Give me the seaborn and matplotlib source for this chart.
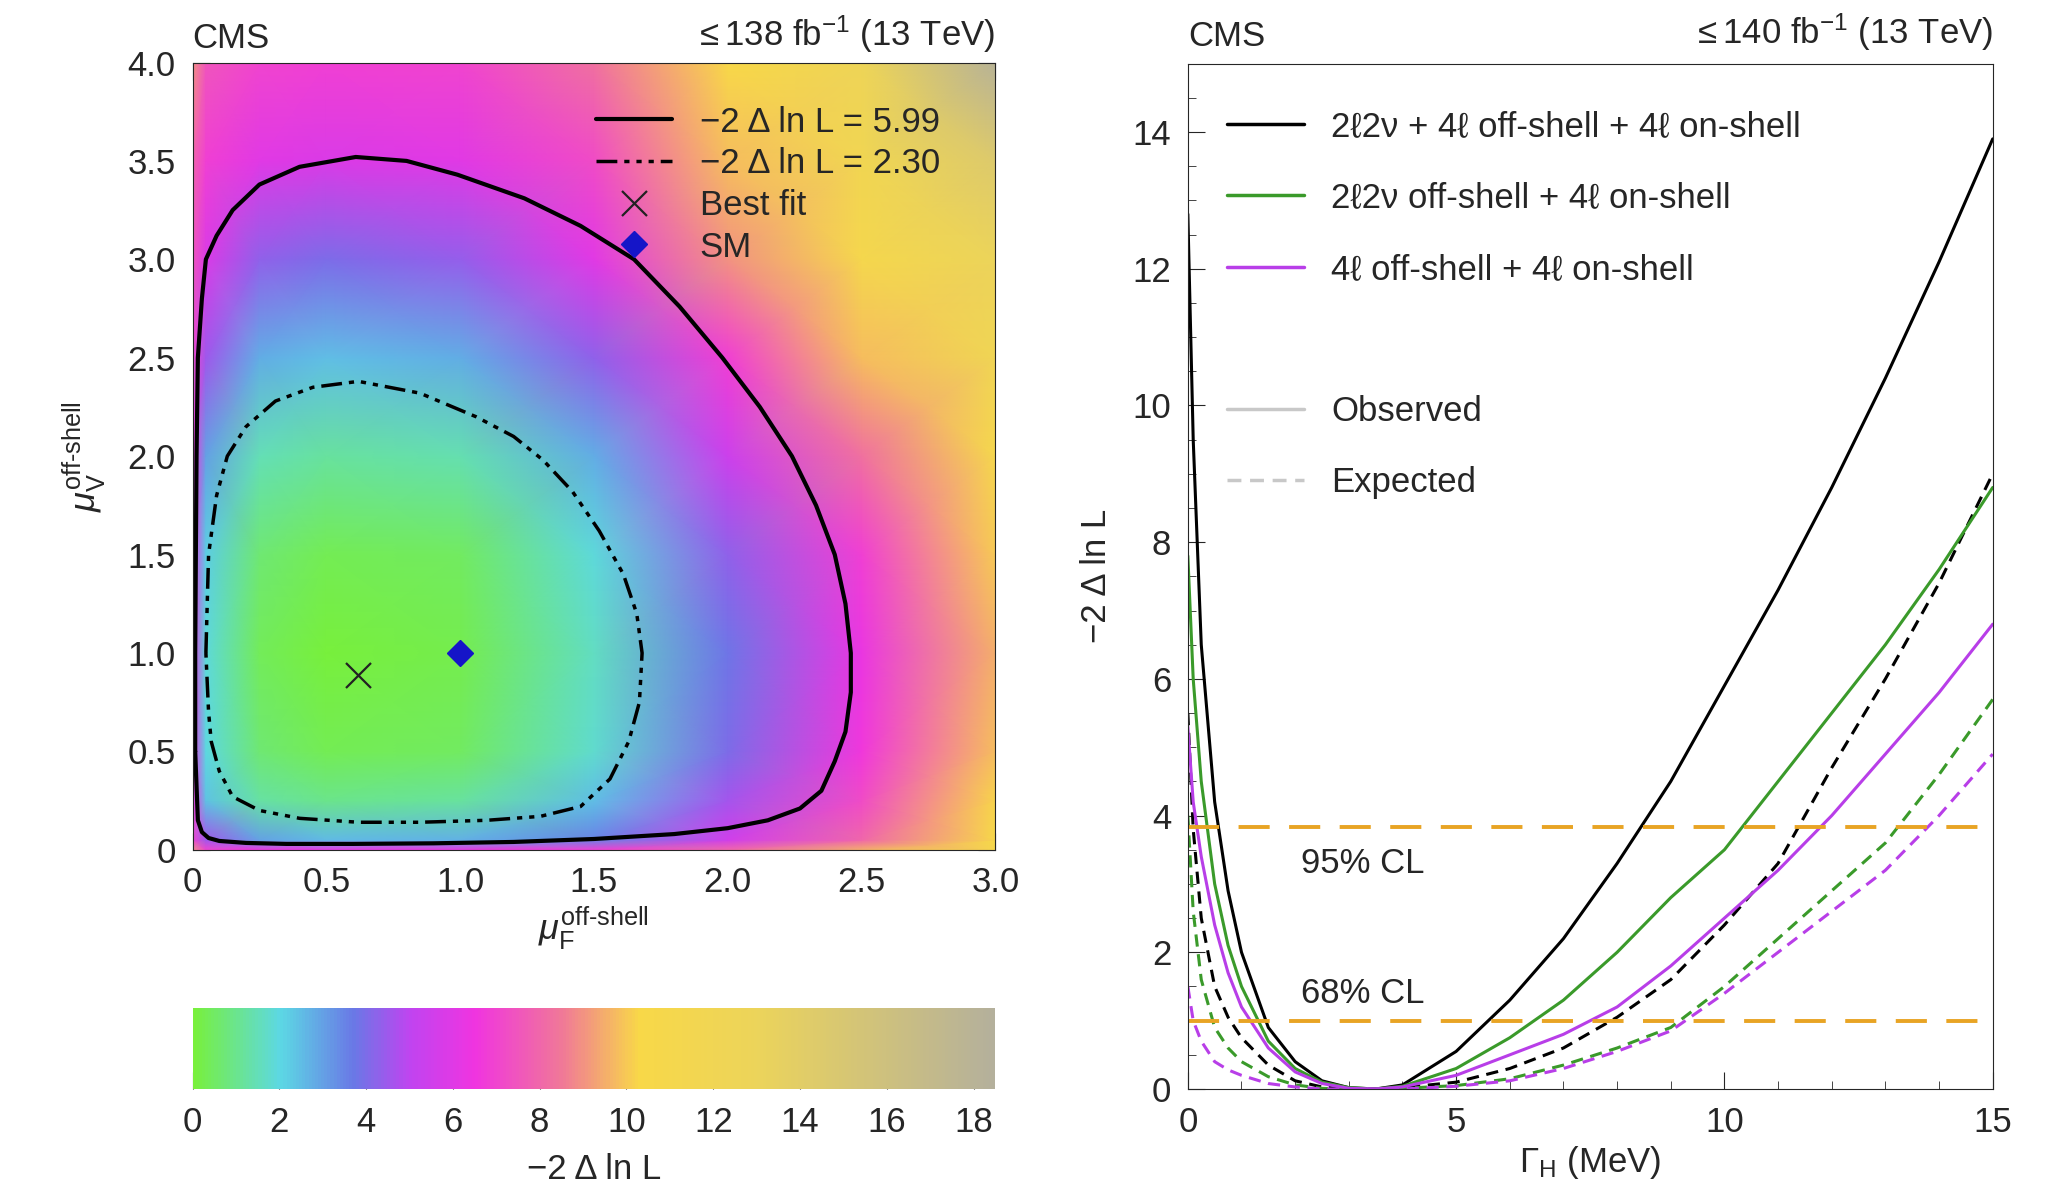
import numpy as np
import pandas as pd
import matplotlib
matplotlib.use("Agg")
import matplotlib.pyplot as plt
import seaborn as sns
from matplotlib.colors import LinearSegmentedColormap
from matplotlib.lines import Line2D

sns.set_style("ticks")
plt.rcParams["font.family"] = "sans-serif"
plt.rcParams["font.sans-serif"] = ["Liberation Sans", "Arial", "DejaVu Sans"]
plt.rcParams["mathtext.fontset"] = "custom"
plt.rcParams["mathtext.rm"] = "Liberation Sans"
plt.rcParams["mathtext.it"] = "Liberation Sans:italic"

# ---------------- left panel data ----------------
mu_F_nodes = [0, 0.05, 0.25, 0.5, 1.0, 1.5, 2.0, 2.5, 3.0]
mu_V_nodes = [0, 0.05, 0.25, 0.5, 1.0, 1.5, 2.0, 2.5, 3.0, 3.5, 4.0]
nll_grid = [
    [9.0, 7.0, 6.5, 6.3, 6.3, 6.8, 8.0, 9.5, 11.0],
    [7.0, 4.5, 3.0, 2.6, 2.7, 3.5, 5.5, 8.0, 10.5],
    [6.5, 2.4, 1.3, 1.0, 1.2, 2.5, 4.6, 7.2, 10.2],
    [6.0, 2.0, 0.7, 0.3, 0.5, 1.8, 4.0, 6.6, 9.8],
    [6.0, 1.9, 0.4, 0.03, 0.25, 1.6, 3.8, 6.3, 9.5],
    [6.2, 2.2, 0.7, 0.35, 0.5, 1.9, 4.3, 6.8, 10.0],
    [6.5, 3.0, 1.5, 1.2, 1.4, 2.8, 5.4, 8.3, 11.0],
    [7.0, 4.5, 2.8, 2.5, 2.8, 4.3, 6.8, 9.8, 12.0],
    [7.5, 5.8, 4.3, 4.0, 4.4, 6.0, 9.0, 11.0, 13.0],
    [8.0, 6.8, 6.0, 5.8, 6.0, 7.2, 9.8, 11.8, 14.5],
    [9.0, 7.5, 7.0, 6.8, 7.0, 8.3, 10.3, 12.5, 18.0],
]
c599_x = [0.01, 0.01, 0.015, 0.02, 0.035, 0.05, 0.09, 0.15, 0.25, 0.4, 0.61, 0.8, 0.99, 1.24, 1.45, 1.65, 1.82, 1.98, 2.12, 2.24, 2.33, 2.40, 2.44, 2.46, 2.46, 2.44, 2.4, 2.35, 2.27, 2.15, 2.0, 1.8, 1.5, 1.2, 0.9, 0.6, 0.35, 0.2, 0.1, 0.06, 0.035, 0.02, 0.01]
c599_y = [0.5, 1.0, 2.0, 2.5, 2.8, 3.0, 3.12, 3.25, 3.38, 3.47, 3.52, 3.5, 3.43, 3.31, 3.17, 3.0, 2.76, 2.5, 2.25, 2.0, 1.75, 1.5, 1.25, 1.0, 0.8, 0.6, 0.45, 0.3, 0.21, 0.15, 0.11, 0.08, 0.055, 0.04, 0.033, 0.03, 0.03, 0.035, 0.045, 0.06, 0.09, 0.15, 0.5]
c230_x = [0.05, 0.06, 0.09, 0.13, 0.2, 0.31, 0.45, 0.62, 0.85, 1.06, 1.2, 1.31, 1.42, 1.52, 1.61, 1.66, 1.68, 1.67, 1.63, 1.56, 1.45, 1.3, 1.1, 0.85, 0.62, 0.4, 0.25, 0.15, 0.1, 0.07, 0.06, 0.05]
c230_y = [1.0, 1.5, 1.8, 2.0, 2.15, 2.28, 2.35, 2.38, 2.32, 2.2, 2.1, 1.98, 1.82, 1.62, 1.4, 1.2, 1.0, 0.75, 0.55, 0.36, 0.22, 0.17, 0.15, 0.14, 0.14, 0.16, 0.2, 0.27, 0.4, 0.55, 0.7, 1.0]
best_fit = (0.62, 0.89)
sm_point = (1.0, 1.0)

# ---------------- right panel data ----------------
gamma = [0, 0.1, 0.25, 0.5, 0.75, 1, 1.5, 2, 2.5, 3, 3.5, 4, 5, 6, 7, 8, 9, 10, 11, 12, 13, 14, 15]
obs_comb = [12.8, 9.5, 6.5, 4.2, 2.9, 2.0, 0.9, 0.4, 0.12, 0.02, 0.0, 0.06, 0.55, 1.3, 2.2, 3.3, 4.5, 5.9, 7.3, 8.8, 10.4, 12.1, 13.9]
obs_2l2n = [7.8, 6.0, 4.5, 3.0, 2.1, 1.5, 0.7, 0.3, 0.1, 0.02, 0.0, 0.04, 0.3, 0.75, 1.3, 2.0, 2.8, 3.5, 4.5, 5.5, 6.5, 7.6, 8.8]
obs_4l = [5.3, 4.2, 3.4, 2.4, 1.7, 1.2, 0.6, 0.25, 0.08, 0.01, 0.0, 0.03, 0.2, 0.5, 0.8, 1.2, 1.8, 2.5, 3.2, 4.0, 4.9, 5.8, 6.8]
exp_comb = [5.5, 3.8, 2.5, 1.5, 1.05, 0.75, 0.35, 0.12, 0.03, 0.0, 0.0, 0.02, 0.1, 0.3, 0.6, 1.05, 1.6, 2.4, 3.3, 4.7, 6.0, 7.4, 9.0]
exp_2l2n = [4.0, 2.6, 1.6, 0.9, 0.6, 0.4, 0.18, 0.06, 0.01, 0.0, 0.0, 0.01, 0.05, 0.15, 0.35, 0.6, 0.9, 1.5, 2.2, 2.9, 3.6, 4.6, 5.7]
exp_4l = [1.5, 1.0, 0.7, 0.4, 0.28, 0.2, 0.08, 0.03, 0.0, 0.0, 0.0, 0.0, 0.04, 0.12, 0.3, 0.55, 0.85, 1.4, 2.0, 2.6, 3.2, 4.0, 4.9]
series_names = ["2ℓ2ν + 4ℓ off-shell + 4ℓ on-shell", "2ℓ2ν off-shell + 4ℓ on-shell", "4ℓ off-shell + 4ℓ on-shell"]
cl_levels = [3.84, 1.0]
cl_labels = ["95% CL", "68% CL"]

colors = {series_names[0]: "black", series_names[1]: "#3a9a2a", series_names[2]: "#b83ee8"}

rows = []
for name, o, e in zip(series_names, [obs_comb, obs_2l2n, obs_4l], [exp_comb, exp_2l2n, exp_4l]):
    for g, v in zip(gamma, o):
        rows.append((name, "Observed", g, v))
    for g, v in zip(gamma, e):
        rows.append((name, "Expected", g, v))
df = pd.DataFrame(rows, columns=["series", "type", "gamma", "nll"])

fig = plt.figure(figsize=(20.48, 12.02), dpi=100)
axL = fig.add_axes([0.094, 0.293, 0.392, 0.655])
axC = fig.add_axes([0.094, 0.094, 0.392, 0.067])
axR = fig.add_axes([0.580, 0.094, 0.393, 0.853])

cmap = LinearSegmentedColormap.from_list("cms", [
    (0.0, "#78f03c"), (2.0 / 18.5, "#5cd8e4"), (3.7 / 18.5, "#6a78e6"),
    (5.0 / 18.5, "#c044f0"), (6.5 / 18.5, "#f034e0"), (8.5 / 18.5, "#f07898"),
    (10.3 / 18.5, "#f8d848"), (13.0 / 18.5, "#ecd45a"), (1.0, "#b4b09c")])

X, Y = np.meshgrid(mu_F_nodes, mu_V_nodes)
mesh = axL.pcolormesh(X, Y, np.array(nll_grid), cmap=cmap, vmin=0, vmax=18.5, shading="gouraud")
sns.lineplot(x=c599_x, y=c599_y, sort=False, color="black", lw=3, ax=axL, estimator=None)
axL.plot(c230_x, c230_y, color="black", lw=2.5, dashes=[6, 2, 1.5, 2, 1.5, 2, 1.5, 2])
axL.plot(*best_fit, marker="x", color="#222222", ms=18, mew=1.6, ls="none")
axL.plot(*sm_point, marker="D", color="#1515c8", ms=13, ls="none")
axL.set_xlim(0, 3)
axL.set_ylim(0, 4)
axL.set_xticks([0, 0.5, 1.0, 1.5, 2.0, 2.5, 3.0])
axL.set_xticklabels(["0", "0.5", "1.0", "1.5", "2.0", "2.5", "3.0"])
axL.set_yticks([0, 0.5, 1.0, 1.5, 2.0, 2.5, 3.0, 3.5, 4.0])
axL.set_yticklabels(["0", "0.5", "1.0", "1.5", "2.0", "2.5", "3.0", "3.5", "4.0"])
axL.minorticks_on()
axL.set_xlabel(r"$\mu_\mathrm{F}^\mathrm{off‐shell}$", fontsize=26)
axL.set_ylabel(r"$\mu_\mathrm{V}^\mathrm{off‐shell}$", fontsize=26, labelpad=14)
axL.text(0.0, 1.01, "CMS", transform=axL.transAxes, fontsize=25, ha="left", va="bottom")
axL.text(1.0, 1.01, r"$\leq$138 fb$^{-1}$ (13 TeV)", transform=axL.transAxes, fontsize=25, ha="right", va="bottom")
hL = [Line2D([], [], color="black", lw=3),
      Line2D([], [], color="black", lw=2.5, dashes=[6, 2, 1.5, 2, 1.5, 2, 1.5, 2]),
      Line2D([], [], marker="x", color="#222222", ms=18, mew=1.6, ls="none"),
      Line2D([], [], marker="D", color="#1515c8", ms=13, ls="none")]
axL.legend(hL, ["−2 Δ ln L = 5.99", "−2 Δ ln L = 2.30", "Best fit", "SM"], loc="upper right",
           bbox_to_anchor=(0.97, 0.985), frameon=False, fontsize=25, handlelength=2.2, labelspacing=0.25)

cb = fig.colorbar(mesh, cax=axC, orientation="horizontal")
cb.set_ticks(range(0, 19, 2))
cb.outline.set_visible(False)
axC.set_xlabel("−2 Δ ln L", fontsize=25, labelpad=10)

for ax in (axL, axC, axR):
    ax.tick_params(labelsize=25, direction="in", which="both", pad=12)
    ax.tick_params(which="major", length=12)
    ax.tick_params(which="minor", length=6)
axL.tick_params(top=True, right=True, which="both")

sns.lineplot(data=df, x="gamma", y="nll", hue="series", style="type", palette=colors,
             style_order=["Observed", "Expected"], dashes={"Observed": "", "Expected": (4, 2.5)},
             lw=2.2, ax=axR, legend=False, estimator=None)
for lvl, lab in zip(cl_levels, cl_labels):
    axR.axhline(lvl, color="#e8a424", lw=2.8, dashes=(8, 5))
axR.text(2.1, cl_levels[0] - 0.3, cl_labels[0], fontsize=25, va="top")
axR.text(2.1, cl_levels[1] + 0.15, cl_labels[1], fontsize=25, va="bottom")
axR.set_xlim(0, 15)
axR.set_ylim(0, 15)
axR.set_xticks([0, 5, 10, 15])
axR.set_yticks([0, 2, 4, 6, 8, 10, 12, 14])
axR.minorticks_on()
axR.set_xlabel(r"$\mathit{\Gamma}_\mathrm{H}$ (MeV)", fontsize=25)
axR.set_ylabel("−2 Δ ln L", fontsize=25, labelpad=14)
axR.text(0.0, 1.01, "CMS", transform=axR.transAxes, fontsize=25, ha="left", va="bottom")
axR.text(1.0, 1.01, r"$\leq$140 fb$^{-1}$ (13 TeV)", transform=axR.transAxes, fontsize=25, ha="right", va="bottom")
hR = [Line2D([], [], color=colors[n], lw=2.5) for n in series_names]
hR += [Line2D([], [], color="none"), Line2D([], [], color="#c8c8c8", lw=2.5),
       Line2D([], [], color="#c8c8c8", lw=2.5, dashes=(4, 2.5))]
axR.legend(hR, series_names + ["", "Observed", "Expected"], loc="upper left", bbox_to_anchor=(0.01, 0.985),
           frameon=False, fontsize=25, handlelength=2.2, labelspacing=1.1)

fig.savefig("out.png", dpi=100, facecolor="white")
